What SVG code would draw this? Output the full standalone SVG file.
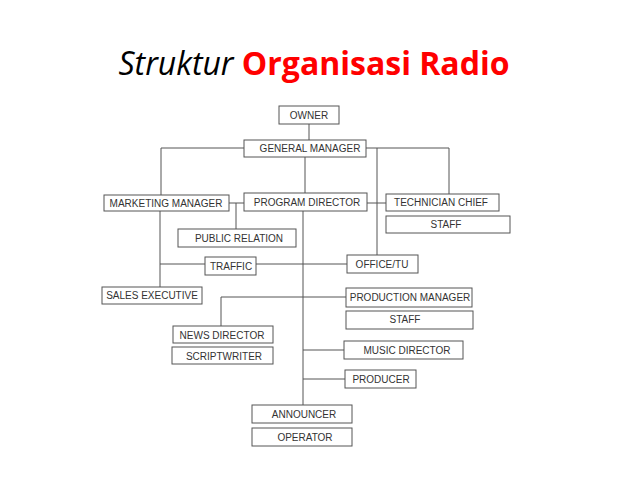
<svg xmlns="http://www.w3.org/2000/svg" width="638" height="478" viewBox="0 0 638 478">
<style>
.b{fill:#fff;stroke:#555;stroke-width:1}
.t{font-family:"Liberation Sans",Arial,sans-serif;font-size:10px;fill:#333;text-anchor:middle}
.c{fill:none;stroke:#555;stroke-width:1}
</style>
<rect width="638" height="478" fill="#fff"/>
<text x="314" y="75" text-anchor="middle" font-family="'Open Sans','Liberation Sans',sans-serif" font-size="32"><tspan font-style="italic" fill="#000">Struktur </tspan><tspan font-weight="bold" fill="#ff0000">Organisasi Radio</tspan></text>
<g id="connectors" class="c">
<path d="M309 124V140"/>
<path d="M244 148H161V195"/>
<path d="M305 157V193"/>
<path d="M366 148H449V194"/>
<path d="M377 148V255"/>
<path d="M229 203H244M236 203V229"/>
<path d="M367 203H386"/>
<path d="M256 264H347"/>
<path d="M160 211V287M160 264H205"/>
<path d="M303 211V405"/>
<path d="M346 297H221V326"/>
<path d="M303 350H344"/>
<path d="M303 379H345"/>
</g>
<g id="owner"><rect class="b" x="279" y="106" width="60" height="18"/><text class="t" x="309" y="119">OWNER</text></g>
<g id="gm"><rect class="b" x="244" y="140" width="122" height="17"/><text class="t" x="310" y="152">GENERAL MANAGER</text></g>
<g id="mm"><rect class="b" x="104" y="195" width="125" height="16"/><text class="t" x="166" y="207">MARKETING MANAGER</text></g>
<g id="pd"><rect class="b" x="244" y="193" width="123" height="18"/><text class="t" x="307" y="206">PROGRAM DIRECTOR</text></g>
<g id="tc"><rect class="b" x="386" y="194" width="113" height="17"/><text class="t" x="441" y="206">TECHNICIAN CHIEF</text></g>
<g id="staff1"><rect class="b" x="386" y="216" width="124" height="17"/><text class="t" x="446" y="228">STAFF</text></g>
<g id="pr"><rect class="b" x="178" y="229" width="118" height="18"/><text class="t" x="239" y="242">PUBLIC RELATION</text></g>
<g id="traffic"><rect class="b" x="205" y="257" width="51" height="18"/><text class="t" x="231" y="270">TRAFFIC</text></g>
<g id="office"><rect class="b" x="347" y="255" width="71" height="18"/><text class="t" x="382" y="268">OFFICE/TU</text></g>
<g id="sales"><rect class="b" x="102" y="287" width="100" height="17"/><text class="t" x="152" y="299">SALES EXECUTIVE</text></g>
<g id="pm"><rect class="b" x="346" y="288" width="126" height="19"/><text class="t" x="410" y="301">PRODUCTION MANAGER</text></g>
<g id="staff2"><rect class="b" x="346" y="311" width="127" height="18"/><text class="t" x="405" y="323">STAFF</text></g>
<g id="nd"><rect class="b" x="173" y="326" width="100" height="17"/><text class="t" x="222" y="339">NEWS DIRECTOR</text></g>
<g id="script"><rect class="b" x="172" y="347" width="101" height="17"/><text class="t" x="224" y="360" font-size="9">SCRIPTWRITER</text></g>
<g id="music"><rect class="b" x="344" y="341" width="119" height="18"/><text class="t" x="407" y="354">MUSIC DIRECTOR</text></g>
<g id="producer"><rect class="b" x="345" y="370" width="71" height="18"/><text class="t" x="381" y="383">PRODUCER</text></g>
<g id="announcer"><rect class="b" x="252" y="405" width="100" height="18"/><text class="t" x="304" y="418">ANNOUNCER</text></g>
<g id="operator"><rect class="b" x="252" y="428" width="100" height="18"/><text class="t" x="305" y="441">OPERATOR</text></g>
</svg>
